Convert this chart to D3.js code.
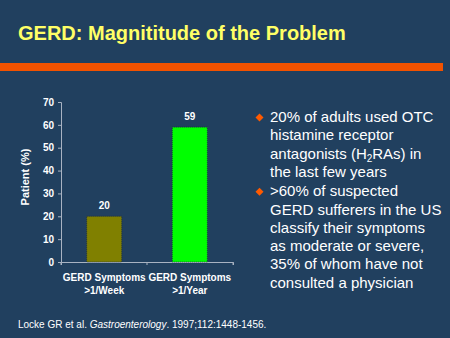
<!DOCTYPE html>
<html lang="en">
<head>
  <meta charset="UTF-8">
  <title>GERD: Magnititude of the Problem</title>
  <style>
    body {
      margin: 0;
      background-color: #21405f;
      font-family: Arial, "Liberation Sans", sans-serif;
    }
    svg { display: block; }
  </style>
</head>
<body>
  <div id="chart"></div>

  <script src="https://d3js.org/d3.v7.min.js"></script>
  <script>
    const categories = [["GERD Symptoms", ">1/Week"], ["GERD Symptoms", ">1/Year"]];
    const values = [20, 59];
    const barColors = ["#808000", "#00ff00"];
    const yTicks = [0, 10, 20, 30, 40, 50, 60, 70];
    const bullets = [
      ["20% of adults used OTC", "histamine receptor", "antagonists (H₂RAs) in", "the last few years"],
      [">60% of suspected", "GERD sufferers in the US", "classify their symptoms", "as moderate or severe,", "35% of whom have not", "consulted a physician"]
    ];

    const width = 450;
    const height = 338;

    const svg = d3.select("#chart")
      .append("svg")
      .attr("width", width)
      .attr("height", height);

    svg.append("rect")
      .attr("width", width)
      .attr("height", height)
      .attr("fill", "#21405f");

    // title and the orange rule
    svg.append("text")
      .attr("x", 18)
      .attr("y", 40)
      .attr("fill", "#ffff66")
      .style("font-size", "20px")
      .style("font-weight", "bold")
      .text("GERD: Magnititude of the Problem");

    svg.append("rect")
      .attr("x", 0)
      .attr("y", 63)
      .attr("width", 443)
      .attr("height", 8)
      .attr("fill", "#f25200");

    // bar chart
    const x = d3.scaleBand()
      .domain(d3.range(categories.length))
      .range([61, 233])
      .paddingInner(0.59)
      .paddingOuter(0.3);

    const y = d3.scaleLinear()
      .domain([0, 70])
      .range([262, 102]);

    const axisColor = "#a9b3c2";

    const yAxis = svg.append("g")
      .attr("transform", "translate(61,0)")
      .call(d3.axisLeft(y).tickValues(yTicks).tickSize(3).tickPadding(4));

    yAxis.select(".domain").attr("stroke", axisColor);
    yAxis.selectAll(".tick line").attr("stroke", axisColor);
    yAxis.selectAll(".tick text")
      .attr("fill", "#ffffff")
      .style("font-size", "10px")
      .style("font-weight", "bold")
      .style("font-family", "Arial, 'Liberation Sans', sans-serif");

    const xAxis = svg.append("g")
      .attr("transform", "translate(0,262)")
      .call(d3.axisBottom(x).tickSize(3).tickFormat(""));

    xAxis.select(".domain").attr("stroke", axisColor);
    xAxis.selectAll(".tick line").remove();
    // tick marks at band boundaries
    const boundaries = [61, (x(0) + x.bandwidth() + x(1)) / 2, 233];
    xAxis.selectAll(".bound")
      .data(boundaries)
      .enter()
      .append("line")
      .attr("x1", d => d)
      .attr("x2", d => d)
      .attr("y1", 0)
      .attr("y2", 3)
      .attr("stroke", axisColor);

    svg.append("g")
      .selectAll("rect")
      .data(values)
      .enter()
      .append("rect")
      .attr("x", (d, i) => x(i))
      .attr("y", d => y(d))
      .attr("width", x.bandwidth())
      .attr("height", d => y(0) - y(d))
      .attr("fill", (d, i) => barColors[i])
      .attr("stroke", "#1a2a40")
      .attr("stroke-width", 0.8)
      .attr("stroke-dasharray", "1,1");

    svg.append("g")
      .selectAll("text")
      .data(values)
      .enter()
      .append("text")
      .attr("x", (d, i) => x(i) + x.bandwidth() / 2)
      .attr("y", d => y(d) - 7)
      .attr("text-anchor", "middle")
      .attr("fill", "#ffffff")
      .style("font-size", "10px")
      .style("font-weight", "bold")
      .text(d => d);

    const catLabels = svg.append("g")
      .selectAll("text")
      .data(categories)
      .enter()
      .append("text")
      .attr("x", (d, i) => x(i) + x.bandwidth() / 2)
      .attr("y", 281)
      .attr("text-anchor", "middle")
      .attr("fill", "#ffffff")
      .style("font-size", "10px")
      .style("font-weight", "bold");

    catLabels.selectAll("tspan")
      .data(d => d)
      .enter()
      .append("tspan")
      .attr("x", function () { return d3.select(this.parentNode).attr("x"); })
      .attr("dy", (d, i) => i === 0 ? 0 : 12.5)
      .text(d => d);

    svg.append("text")
      .attr("transform", "translate(29,177) rotate(-90)")
      .attr("text-anchor", "middle")
      .attr("fill", "#ffffff")
      .style("font-size", "11px")
      .style("font-weight", "bold")
      .text("Patient (%)");

    // bullet list
    const lineHeight = 18.3;
    let lineY = 122;
    bullets.forEach(lines => {
      svg.append("path")
        .attr("d", d3.symbol().type(d3.symbolSquare).size(32)())
        .attr("transform", `translate(259.5,${lineY - 4.5}) rotate(45)`)
        .attr("fill", "#ff5a00");
      lines.forEach(line => {
        const t = svg.append("text")
          .attr("x", 270)
          .attr("y", lineY)
          .attr("fill", "#ffffff")
          .style("font-size", "15px");
        if (line.includes("₂")) {
          const parts = line.split("₂");
          t.append("tspan").text(parts[0]);
          t.append("tspan").attr("dy", 3).style("font-size", "10px").text("2");
          t.append("tspan").attr("dy", -3).text(parts[1]);
        } else {
          t.text(line);
        }
        lineY += lineHeight;
      });
      lineY += 1;
    });

    // citation
    const cite = svg.append("text")
      .attr("x", 18)
      .attr("y", 328)
      .attr("fill", "#ffffff")
      .style("font-size", "10px");
    cite.append("tspan").text("Locke GR et al. ");
    cite.append("tspan").style("font-style", "italic").text("Gastroenterology");
    cite.append("tspan").text(". 1997;112:1448-1456.");
  </script>
</body>
</html>
